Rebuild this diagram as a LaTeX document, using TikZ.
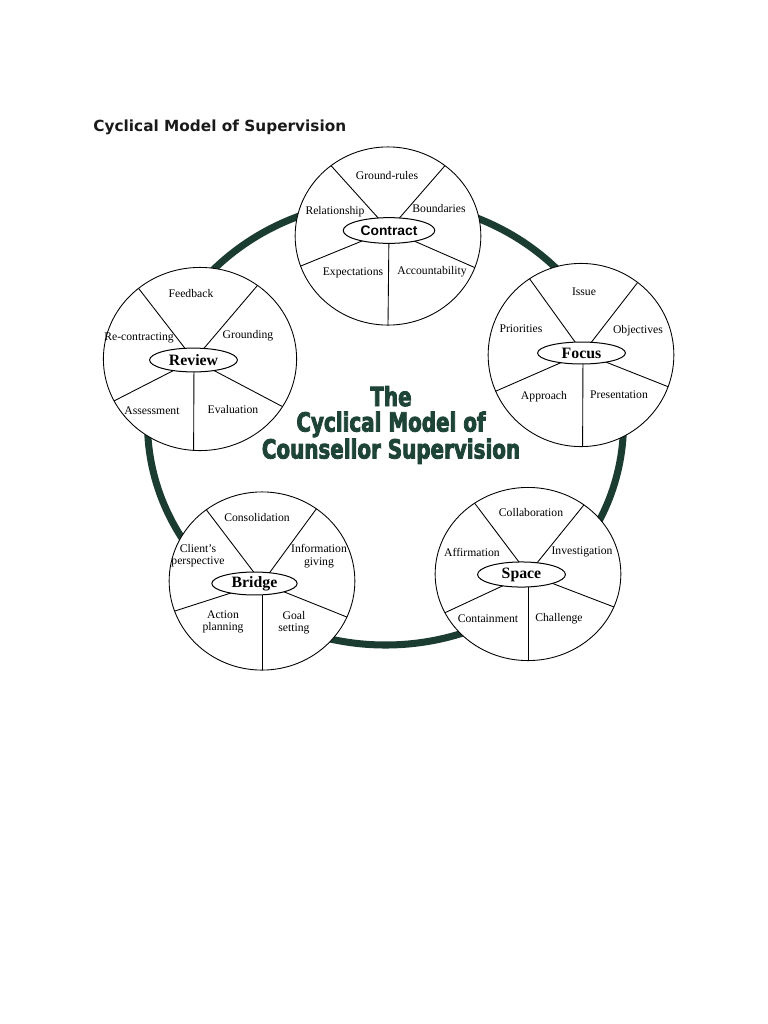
\documentclass[tikz,border=0pt]{standalone}
\usepackage{fontspec}
\setmainfont{Liberation Serif}
\newfontfamily\headfont{DejaVu Sans}
\newfontfamily\armfont{Liberation Sans}
\newfontfamily\posterfont[FakeStretch=0.755,BoldFeatures={FakeBold=3}]{DejaVu Sans}
\usetikzlibrary{shapes.geometric}
\definecolor{ringgreen}{HTML}{1B3D31}
\definecolor{postergreen}{HTML}{1D4436}
\definecolor{inkblack}{HTML}{1A1A1A}

\begin{document}
\begin{tikzpicture}[x=0.797pt,y=-0.797pt,
  disk/.style={draw,ellipse,fill=white,line width=0.7pt,minimum width=148pt,minimum height=142pt,inner sep=0pt,outer sep=0pt},
  hub/.style={draw,ellipse,fill=white,line width=0.8pt,minimum width=70pt,minimum height=19pt,inner sep=0pt,font=\bfseries\fontsize{12.6}{14}\selectfont},
  spoke/.style={line width=0.7pt},
  part/.style={font=\fontsize{9.3}{9.8}\selectfont,align=center,inner sep=1pt}]
\useasboundingbox[fill=white] (0,0) rectangle (768,1024);

\node[anchor=base west,text=inkblack,font=\headfont\bfseries\fontsize{12.2}{14}\selectfont] (title) at (89,131.5) {Cyclical Model of Supervision};

\draw[ringgreen,line width=5.6pt] (385.5,423) ellipse [x radius=238,y radius=222];

\node[disk] (contract) at (388,236) {};
\node[disk,minimum height=146pt] (focus) at (581,355) {};
\node[disk,minimum width=154pt,minimum height=146pt] (review) at (200,359) {};
\node[disk] (bridge) at (262,581) {};
\node[disk,minimum height=138pt] (space) at (528,574) {};

\coordinate (contract-c) at (389,230);
\coordinate (focus-c) at (583,353);
\coordinate (review-c) at (194,360);
\coordinate (bridge-c) at (262,583);
\coordinate (space-c) at (528,574);

\foreach \d/\ta/\tb/\tc/\td/\te in {contract/51/129/199/270/340,focus/52/124/203/271/340,review/52/131/206/266/330,bridge/53/128/199/270/337,space/51/127/205/270/339}
  \foreach \t in {\ta,\tb,\tc,\td,\te}
    \draw[spoke] (\d-c) -- (\d.\t);

\node[hub,font=\armfont\bfseries\fontsize{11}{13}\selectfont,minimum width=73pt,minimum height=20.5pt] (contract-hub) at (389,230.5) {Contract};
\node[hub,minimum height=17.5pt] (focus-hub) at (581.5,353) {Focus};
\node[hub] (review-hub) at (193.5,360) {Review};
\node[hub,minimum width=68pt,minimum height=18.3pt] (bridge-hub) at (254.5,583.5) {Bridge};
\node[hub,minimum height=20pt] (space-hub) at (521.5,574.5) {Space};

\node[part] (groundrules) at (387,176) {Ground-rules};
\node[part] (relationship) at (335,212) {Relationship};
\node[part] (boundaries) at (439,209) {Boundaries};
\node[part] (expectations) at (353,273) {Expectations};
\node[part] (accountability) at (432,272) {Accountability};

\node[part] (issue) at (584,292) {Issue};
\node[part] (priorities) at (521,329) {Priorities};
\node[part] (objectives) at (638,331) {Objectives};
\node[part] (approach) at (544,397) {Approach};
\node[part] (presentation) at (619,395) {Presentation};

\node[part] (feedback) at (191,294) {Feedback};
\node[part] (recontracting) at (139,338) {Re-contracting};
\node[part] (grounding) at (248,336) {Grounding};
\node[part] (assessment) at (152,411) {Assessment};
\node[part] (evaluation) at (233,410) {Evaluation};

\node[part] (consolidation) at (257,517) {Consolidation};
\node[part] (perspective) at (198,556) {Client's\\perspective};
\node[part] (information) at (319,556) {Information\\giving};
\node[part] (action) at (223,622) {Action\\planning};
\node[part] (goal) at (294,623) {Goal\\setting};

\node[part] (collaboration) at (531,513) {Collaboration};
\node[part] (affirmation) at (472,552) {Affirmation};
\node[part] (investigation) at (582,552) {Investigation};
\node[part] (containment) at (488,619) {Containment};
\node[part] (challenge) at (559,619) {Challenge};

\node[text=postergreen,align=center,font=\posterfont\bfseries\fontsize{21}{20.3}\selectfont] (poster) at (391,425) {The\\Cyclical Model of\\Counsellor Supervision};
\end{tikzpicture}
\end{document}
